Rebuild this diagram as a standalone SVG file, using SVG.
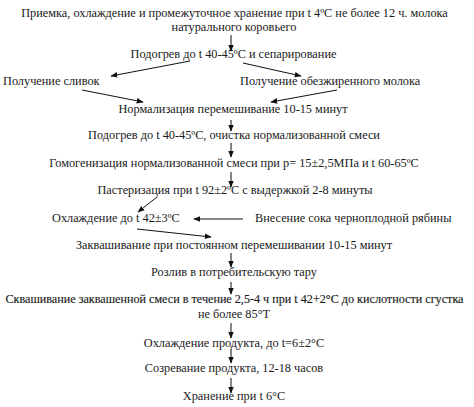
<svg xmlns="http://www.w3.org/2000/svg" width="474" height="407" viewBox="0 0 474 407">
<style>
text{font-family:"Liberation Serif","Times New Roman",serif;font-size:12.3px;fill:#1a1a1a}
.m{text-anchor:middle}
.b{font-size:12.15px;stroke:#1a1a1a;stroke-width:0.15}
.c line{stroke:#111;stroke-width:1}
</style>
<defs>
<marker id="a" viewBox="0 0 10 10" refX="9" refY="5" markerWidth="7" markerHeight="7" orient="auto" markerUnits="userSpaceOnUse">
<path d="M0,1 L10,5 L0,9 z" fill="#111"/>
</marker>
</defs>
<rect width="474" height="407" fill="#fff"/>
<g id="n1"><text class="m" x="234.5" y="17">Приемка, охлаждение и промежуточное хранение при t 4ºС не более 12 ч. молока</text><text class="m" x="234" y="31">натурального коровьего</text></g>
<g id="n2"><text class="m" x="233.5" y="58">Подогрев до t 40-45ºС и сепарирование</text></g>
<g id="n3"><text x="3" y="85">Получение сливок</text></g>
<g id="n4"><text x="240" y="85">Получение обезжиренного молока</text></g>
<g id="n5"><text class="m" x="233" y="113">Нормализация перемешивание 10-15 минут</text></g>
<g id="n6"><text class="m" x="234" y="139">Подогрев до t 40-45ºС, очистка нормализованной смеси</text></g>
<g id="n7"><text class="m" x="234" y="167">Гомогенизация нормализованной смеси при p= 15±2,5МПа и t 60-65ºС</text></g>
<g id="n8"><text class="m" x="235" y="194">Пастеризация при  t 92±2ºС с выдержкой 2-8 минуты</text></g>
<g id="n9"><text x="52" y="222">Охлаждение до t 42±3ºС</text></g>
<g id="n10"><text x="255" y="222">Внесение сока черноплодной рябины</text></g>
<g id="n11"><text class="m" x="234" y="249">Заквашивание при постоянном перемешивании 10-15 минут</text></g>
<g id="n12"><text class="m" x="234" y="276">Розлив в потребительскую тару</text></g>
<g id="n13"><text class="m b" x="234.5" y="303">Сквашивание заквашенной смеси в течение 2,5-4 ч при t  42+2°С до кислотности сгустка</text><text class="m" x="234" y="318">не более 85°Т</text></g>
<g id="n14"><text class="m" x="234" y="347">Охлаждение продукта, до t=6±2°С</text></g>
<g id="n15"><text class="m" x="234" y="372">Созревание продукта, 12-18 часов</text></g>
<g id="n16"><text class="m" x="234" y="400">Хранение при t 6°С</text></g>
<g class="c" id="connectors">
<line x1="231" y1="35" x2="231" y2="51" marker-end="url(#a)"/>
<line x1="190" y1="61" x2="111" y2="76" marker-end="url(#a)"/>
<line x1="243" y1="63" x2="301" y2="76" marker-end="url(#a)"/>
<line x1="82" y1="90" x2="143" y2="102" marker-end="url(#a)"/>
<line x1="337" y1="90" x2="271" y2="102" marker-end="url(#a)"/>
<line x1="231" y1="120" x2="231" y2="131" marker-end="url(#a)"/>
<line x1="231" y1="143" x2="231" y2="157" marker-end="url(#a)"/>
<line x1="231" y1="172" x2="231" y2="187" marker-end="url(#a)"/>
<line x1="157" y1="197" x2="138" y2="212" marker-end="url(#a)"/>
<line x1="243" y1="219" x2="194" y2="219" marker-end="url(#a)"/>
<line x1="137" y1="229" x2="211" y2="237" marker-end="url(#a)"/>
<line x1="231" y1="253" x2="231" y2="267" marker-end="url(#a)"/>
<line x1="231" y1="282" x2="231" y2="294" marker-end="url(#a)"/>
<line x1="231" y1="323" x2="231" y2="338" marker-end="url(#a)"/>
<line x1="231" y1="349" x2="231" y2="363" marker-end="url(#a)"/>
<line x1="231" y1="378" x2="231" y2="393" marker-end="url(#a)"/>
</g>
</svg>
